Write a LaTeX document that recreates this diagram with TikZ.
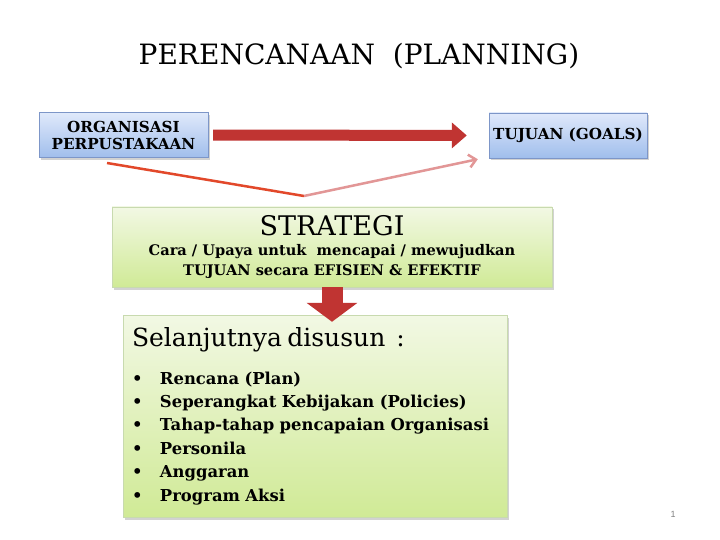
\documentclass[tikz,border=0pt]{standalone}
\usepackage{fontspec}
\setmainfont{DejaVu Serif}
\newfontfamily\pagefont{Liberation Sans}
\usepackage{xcolor}
\usetikzlibrary{arrows.meta,shadows}
\definecolor{bluetop}{RGB}{224,233,251}
\definecolor{bluebot}{RGB}{160,190,236}
\definecolor{blueline}{RGB}{125,150,200}
\definecolor{greentop}{RGB}{242,248,228}
\definecolor{greenbot}{RGB}{208,234,150}
\definecolor{greenline}{RGB}{200,218,175}
\definecolor{arrowred}{RGB}{192,52,50}
\definecolor{linered}{RGB}{226,72,42}
\definecolor{linepink}{RGB}{226,150,150}

\begin{document}
\begin{tikzpicture}[x=1pt,y=-1pt]
\tikzset{shade box/.style={drop shadow={opacity=0.35,shadow xshift=2pt,shadow yshift=-2.5pt}}}
\tikzset{bluebox/.style={shade box,draw=blueline,top color=bluetop,bottom color=bluebot,inner sep=0pt,align=center,minimum height=45pt,font=\bfseries\fontsize{15.2}{17}\selectfont}}
\tikzset{greenbox/.style={shade box,draw=greenline,top color=greentop,bottom color=greenbot,inner sep=0pt}}

\useasboundingbox[fill=white] (0,0) rectangle (720,540);

\node[anchor=base,font=\fontsize{28}{32}\selectfont] (title) at (359,65) {PERENCANAAN~ (PLANNING)};

\node[bluebox,minimum width=169pt] (org) at (123.5,135) {ORGANISASI\\PERPUSTAKAAN};
\node[bluebox,minimum width=158pt] (goal) at (568,135.5) {TUJUAN (GOALS)};

\node[greenbox,minimum width=440pt,minimum height=80pt,align=center,font=\bfseries\fontsize{14.6}{20}\selectfont] (strat) at (332,247)
  {{\mdseries\fontsize{27}{20}\selectfont STRATEGI}\\Cara / Upaya untuk~ mencapai / mewujudkan\\TUJUAN secara EFISIEN \& EFEKTIF};

\node[greenbox,minimum width=384pt,minimum height=202pt,inner xsep=9pt,text width=366pt,align=left,font=\bfseries\fontsize{16.4}{23.4}\selectfont] (next) at (315,416)
  {{\mdseries\fontsize{25}{23.4}\selectfont Selanjutnya disusun~ :}\\[14.6pt]
   \makebox[28pt][l]{\textbullet}Rencana (Plan)\\
   \makebox[28pt][l]{\textbullet}Seperangkat Kebijakan (Policies)\\
   \makebox[28pt][l]{\textbullet}Tahap-tahap pencapaian Organisasi\\
   \makebox[28pt][l]{\textbullet}Personila\\
   \makebox[28pt][l]{\textbullet}Anggaran\\
   \makebox[28pt][l]{\textbullet}Program Aksi};

\coordinate (bend) at (304,196);
\coordinate (lnstart) at (107,163);

\draw[arrowred,line width=11pt,-{Triangle[width=25pt,length=15pt]},shorten <=5pt,shorten >=22pt] (org.east) -- (goal.west);
\draw[linered,line width=2.5pt] (lnstart) -- (bend);
\draw[linepink,line width=2.5pt,-{Straight Barb[width=13pt,length=7pt]}] (bend) -- ([xshift=-11pt,yshift=-1pt]goal.south west);
\draw[arrowred,line width=21pt,-{Triangle[width=50pt,length=19pt]},shorten >=-7pt] (strat.south) -- (strat.south |- next.north);

\node[font=\pagefont\fontsize{9}{10}\selectfont,text=gray] (pagenum) at (673,514) {1};
\end{tikzpicture}
\end{document}
